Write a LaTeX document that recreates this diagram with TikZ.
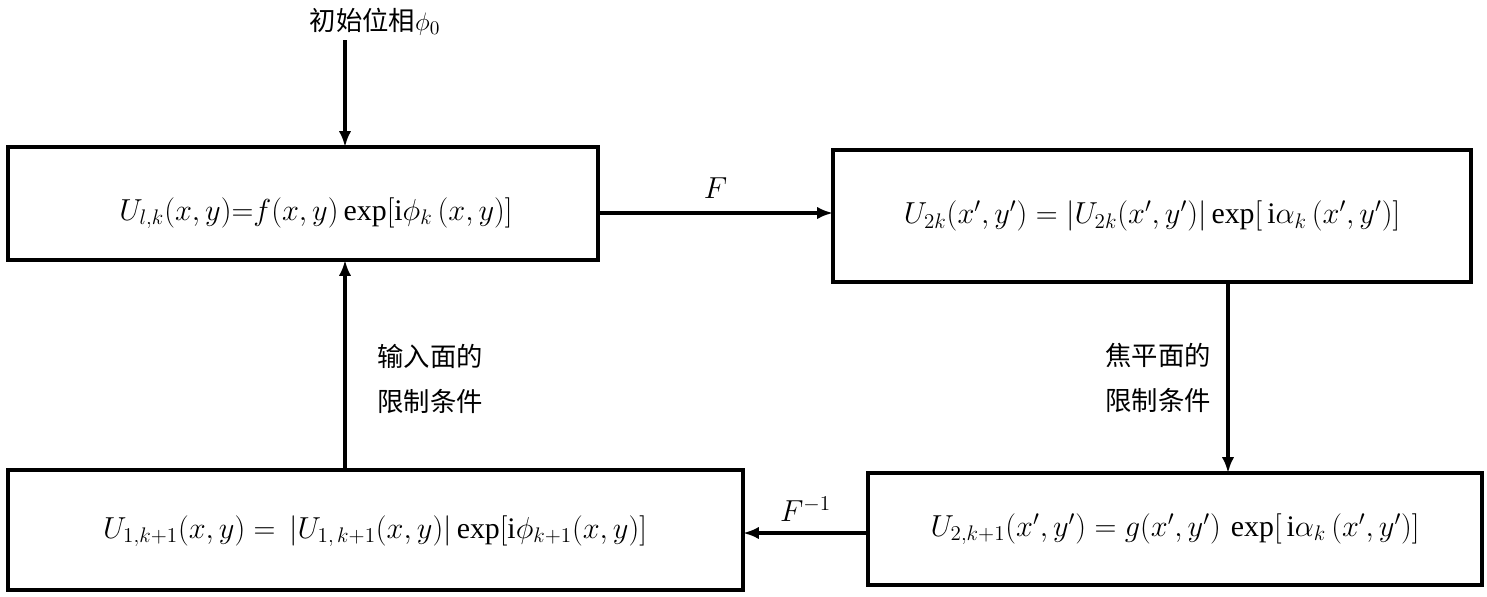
\documentclass[tikz,border=0pt]{standalone}
\usepackage{fontspec}
\setmainfont{Liberation Serif}
\newfontfamily\cjk{Noto Sans CJK SC}
\usetikzlibrary{arrows.meta}
\begin{document}
\begin{tikzpicture}[x=0.02cm,y=-0.02cm,
  box/.style={draw,line width=2pt,inner sep=0pt},
  arr/.style={-{Latex[length=9pt,width=7pt]}, line width=2pt},
  lab/.style={font=\cjk\fontsize{15}{26}\selectfont,align=left},
  eq/.style={font=\fontsize{17}{20}\selectfont}]
\useasboundingbox (0,0) rectangle (1487,596);
\draw[box] (8,147) rectangle (598,260);
\draw[box] (833,150) rectangle (1471,282);
\draw[box] (8,470) rectangle (743,590);
\draw[box] (868,473) rectangle (1482,585);
\node[eq] (a) at (316,213) {$U_{l,k}(x,y){=}f(x,y)\exp[\mathrm{i}\phi_k\,(x,y)]$};
\node[eq] (b) at (1152,216) {$U_{2k}(x',y')=|U_{2k}(x',y')|\exp[\,\mathrm{i}\alpha_k\,(x',y')]$};
\node[eq] (c) at (375,531) {$U_{1,k+1}(x,y)=\,|U_{1,\,k+1}(x,y)|\exp[\mathrm{i}\phi_{k+1}(x,y)]$};
\node[eq] (d) at (1175,529) {$U_{2,k+1}(x',y')=g(x',y')\,\exp[\,\mathrm{i}\alpha_k\,(x',y')]$};
\node[lab] (t) at (375,22) {初始位相$\phi_0$};
\coordinate (t1) at (345,40); \coordinate (t2) at (345,147);
\draw[arr] (t1) -- (t2);
\coordinate (ab1) at (598,213); \coordinate (ab2) at (833,213);
\draw[arr] (ab1) -- (ab2) node[midway,above=4pt,eq] {$F$};
\coordinate (bd1) at (1228,282); \coordinate (bd2) at (1228,473);
\draw[arr] (bd1) -- (bd2);
\node[lab] at (1158,378) {焦平面的\\限制条件};
\coordinate (dc1) at (868,533); \coordinate (dc2) at (743,533);
\draw[arr] (dc1) -- (dc2) node[midway,above=2pt,eq] {$F^{-1}$};
\coordinate (ca1) at (345,470); \coordinate (ca2) at (345,260);
\draw[arr] (ca1) -- (ca2);
\node[lab] at (430,379) {输入面的\\限制条件};
\end{tikzpicture}
\end{document}
